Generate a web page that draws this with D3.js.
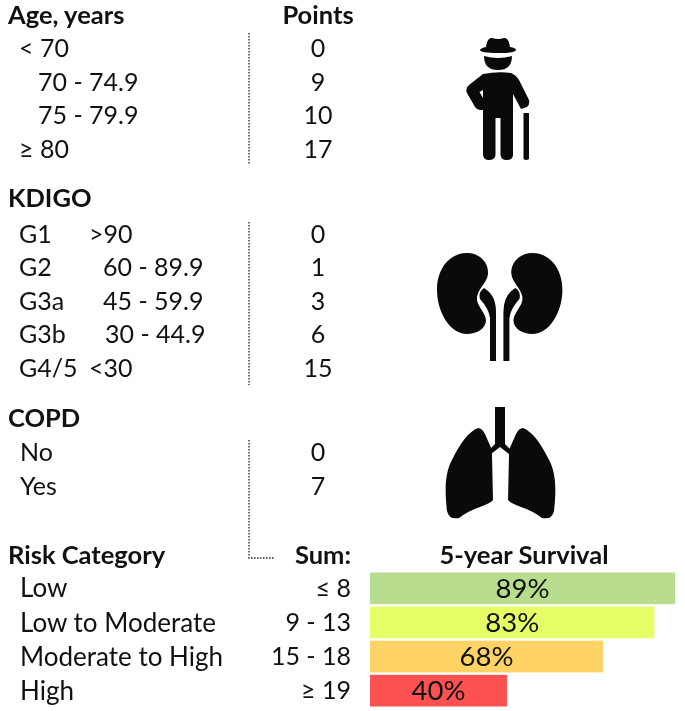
<!DOCTYPE html>
<html>
<head>
<meta charset="utf-8">
<script src="https://cdnjs.cloudflare.com/ajax/libs/d3/7.8.5/d3.min.js"></script>
<style>
  html, body { margin: 0; padding: 0; background: #fff; }
  svg { display: block; filter: blur(0.35px); }
  text { font-family: Lato, "Open Sans", sans-serif; font-size: 25px; fill: #111; }
  .head { font-weight: 700; font-size: 25.5px; }
  .pct { font-size: 27.5px; }
  .risk text { font-size: 26px; }
</style>
</head>
<body>
<div id="chart"></div>
<script>
const ageLabels = ['< 70', '70 - 74.9', '75 - 79.9', '≥ 80']
const agePoints = [0, 9, 10, 17]
const kdigoStages = ['G1', 'G2', 'G3a', 'G3b', 'G4/5']
const kdigoRanges = ['>90', '60 - 89.9', '45 - 59.9', '30 - 44.9', '<30']
const kdigoPoints = [0, 1, 3, 6, 15]
const copdLabels = ['No', 'Yes']
const copdPoints = [0, 7]
const riskCategories = ['Low', 'Low to Moderate', 'Moderate to High', 'High']
const riskSums = ['≤ 8', '9 - 13', '15 - 18', '≥ 19']
const survival = [89, 83, 68, 40]
const riskColors = ['#b9dd8e', '#e6fd66', '#fed264', '#fe5252']

const width = 685, height = 711

const svg = d3.select('#chart').append('svg')
  .attr('width', width)
  .attr('height', height)

// row offsets inside the label column
const ageLabelX = [19, 38, 38, 19]
const rangeX = [89, 103, 103, 105, 89]

function rowScale(n, first, last) {
  return d3.scaleLinear().domain([0, n - 1]).range([first, last])
}

function addText(str, x, y, anchor, cls) {
  return svg.append('text')
    .attr('x', x)
    .attr('y', y)
    .attr('dy', '0.35em')
    .attr('text-anchor', anchor || 'start')
    .attr('class', cls || null)
    .text(str)
}

function addRows(values, xOf, y, anchor, cls) {
  svg.append('g')
    .attr('class', cls || null)
    .selectAll('text')
    .data(values)
    .join('text')
    .attr('x', (d, i) => typeof xOf === 'function' ? xOf(d, i) : xOf)
    .attr('y', (d, i) => y(i))
    .attr('dy', '0.35em')
    .attr('text-anchor', anchor || 'start')
    .text(d => d)
}

function addDotted(d) {
  svg.append('path')
    .attr('d', d)
    .attr('fill', 'none')
    .attr('stroke', '#222')
    .attr('stroke-width', 1.3)
    .attr('stroke-dasharray', '1.5 1.5')
}

// AGE
addText('Age, years', 8, 15, 'start', 'head')
addText('Points', 318, 15, 'middle', 'head')
const ageY = rowScale(ageLabels.length, 48.5, 149)
addRows(ageLabels, (d, i) => ageLabelX[i], ageY)
addRows(agePoints, 318, ageY, 'middle')
addDotted('M249,33V165')

// KDIGO
addText('KDIGO', 8, 198, 'start', 'head')
const kdigoY = rowScale(kdigoStages.length, 234, 368)
addRows(kdigoStages, 19, kdigoY)
addRows(kdigoRanges, (d, i) => rangeX[i], kdigoY)
addRows(kdigoPoints, 318, kdigoY, 'middle')
addDotted('M249,222V385')

// COPD
addText('COPD', 8, 418, 'start', 'head')
const copdY = rowScale(copdLabels.length, 452, 486)
addRows(copdLabels, 20, copdY)
addRows(copdPoints, 318, copdY, 'middle')
addDotted('M249,440V558H275')

// RISK
addText('Risk Category', 8, 555, 'start', 'head')
addText('Sum:', 351, 555, 'end', 'head')
addText('5-year Survival', 524, 555, 'middle', 'head')

const x = d3.scaleLinear().domain([0, 89]).range([370, 675])
const y = d3.scaleBand().domain(riskCategories).range([572.5, 706.5]).paddingInner(0.07)
const rowY = (d, i) => y(riskCategories[i]) + y.bandwidth() / 2

addRows(riskCategories, 20, (i) => rowY(null, i), 'start', 'risk')
addRows(riskSums, 351, (i) => rowY(null, i), 'end')

svg.append('g').selectAll('rect')
  .data(survival)
  .join('rect')
  .attr('x', x(0))
  .attr('y', (d, i) => y(riskCategories[i]))
  .attr('width', d => x(d) - x(0))
  .attr('height', y.bandwidth())
  .attr('fill', (d, i) => riskColors[i])

svg.append('g').selectAll('text')
  .data(survival)
  .join('text')
  .attr('class', 'pct')
  .attr('x', d => (x(0) + x(d)) / 2)
  .attr('y', rowY)
  .attr('dy', '0.35em')
  .attr('text-anchor', 'middle')
  .text(d => d + '%')

// ICONS
const icons = svg.append('g').attr('fill', '#0a0a0a')

// man with hat and cane
icons.append('path').attr('d', 'M480,50Q481,48 486,47C487,40 489,38 492,38Q498,40 504,38C507,38 509,40 510,47Q516,48 516,50Q516,53 498,53Q480,53 480,50Z')
icons.append('path').attr('d', 'M484,56Q498,60 512,56Q512,70 498,70Q484,70 484,56Z')
icons.append('path').attr('d', 'M483,74Q498,71 511,73Q516,75 519,80L529,100Q530,105 527,107L521,109L513,94V155Q513,160 506.5,160Q501,160 500.5,155V118H495.5V155Q495,160 489,160Q483.5,160 483,155V110H480Q477,110 475,107L467,93Q465,88 469,85Z M483,90L479.5,92L483,98Z')
icons.append('path').attr('d', 'M523.5,113H529V159Q526,161 523.5,159Z')

// kidneys, right one mirrored
const kidney = 'M467,253C480,253 489,263 488,274C487,283 479,287 477,297C476,306 485,311 486,320C486,329 476,334 467,334C450,334 437,312 437,290C437,268 450,253 467,253Z'
const ureter = 'M484,288Q496,295 496,312V361H490V318Q489,309 480,299Q478,292 484,288Z'
icons.append('path').attr('d', kidney)
icons.append('path').attr('d', ureter)
icons.append('g')
  .attr('transform', 'translate(999.4,0) scale(-1,1)')
  .call(g => {
    g.append('path').attr('d', kidney)
    g.append('path').attr('d', ureter)
  })

// lungs, right one mirrored
const lung = 'M478,428Q482,428 485,434L492,450L492,456L493,500Q491,503 480,507Q468,511 459,518Q449,520 447,511C444,485 446,470 453,458C460,444 468,432 478,428Z'
icons.append('path').attr('d', 'M495,407H505V444L512,451L509,454L500,447L491,454L488,451L495,444Z')
icons.append('path').attr('d', lung)
icons.append('g')
  .attr('transform', 'translate(1001,0) scale(-1,1)')
  .append('path').attr('d', lung)
</script>
</body>
</html>
